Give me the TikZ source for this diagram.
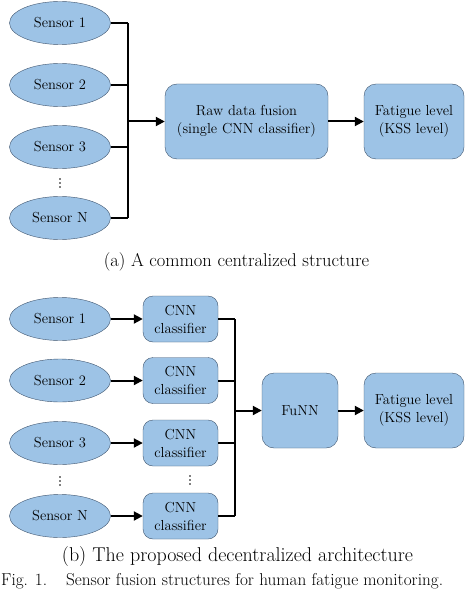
\documentclass[tikz,border=0pt]{standalone}
\usepackage{fontspec}
\usetikzlibrary{shapes.geometric,arrows.meta}

\definecolor{boxfill}{RGB}{157,195,230}
\definecolor{boxline}{RGB}{62,84,110}

\tikzset{
  txt/.style={font=\fontsize{14.5}{18}\selectfont},
  captxt/.style={font=\fontsize{#1}{21}\selectfont},
  captxt/.default=18.5,
  sensor/.style={txt, ellipse, draw=boxline, fill=boxfill, minimum width=101pt,
    minimum height=43pt, inner sep=0pt},
  block/.style={txt, rectangle, rounded corners=12pt, draw=boxline, fill=boxfill,
    inner sep=0pt, align=center},
  link/.style={line width=2pt},
  arr/.style={line width=2pt, -{Triangle[length=9pt,width=9pt]}}
}
\newcommand{\vdotsat}[1]{%
  \foreach \d in {-4,0,4} \fill (#1) ++(0,\d) circle (0.9pt);}

\begin{document}
\begin{tikzpicture}[x=1pt,y=-1pt]
  \useasboundingbox[fill=white] (0,0) rectangle (474,596);

  % (a) centralized
  \node[sensor] (a1) at (60,23) {Sensor 1};
  \node[sensor] (a2) at (60,85) {Sensor 2};
  \node[sensor] (a3) at (60,147) {Sensor 3};
  \coordinate (adots) at (60,183);
  \vdotsat{adots}
  \node[sensor] (aN) at (60,218) {Sensor N};

  \node[block, minimum width=163pt, minimum height=75pt] (raw) at (246.5,121.5)
    {Raw data fusion\\(single CNN classifier)};
  \node[block, minimum width=100pt, minimum height=75pt] (fatA) at (414,121.5)
    {Fatigue level\\(KSS level)};

  \coordinate (busA) at (128,121.5);
  \foreach \s in {a1,a2,a3,aN}
    \draw[link] (\s.east) -- (\s.east -| busA);
  \draw[link] (a1.east -| busA) -- (aN.east -| busA);
  \draw[arr] (busA) -- (raw);
  \draw[arr] (raw) -- (fatA);

  \node[captxt] (capA) at (236.5,262) {(a) A common centralized structure};

  % (b) decentralized
  \node[sensor] (b1) at (60,319) {Sensor 1};
  \node[sensor] (b2) at (60,380.5) {Sensor 2};
  \node[sensor] (b3) at (60,443) {Sensor 3};
  \coordinate (bdots) at (60,481);
  \vdotsat{bdots}
  \node[sensor] (bN) at (60,516) {Sensor N};

  \foreach \s/\y in {1/319,2/380.5,3/443,N/516}
    \node[block, rounded corners=10pt, minimum width=75pt, minimum height=46pt]
      (c\s) at (180.5,\y) {CNN\\classifier};
  \coordinate (cdots) at (190,480);
  \vdotsat{cdots}

  \node[block, minimum width=76pt, minimum height=75pt] (funn) at (300,410.5) {FuNN};
  \node[block, minimum width=100pt, minimum height=75pt] (fatB) at (414,410.5)
    {Fatigue level\\(KSS level)};

  \coordinate (busB) at (235,410.5);
  \foreach \s in {1,2,3,N} {
    \draw[arr] (b\s) -- (c\s);
    \draw[link] (c\s.east) -- (c\s.east -| busB);
  }
  \draw[link] (c1.east -| busB) -- (cN.east -| busB);
  \draw[arr] (busB) -- (funn);
  \draw[arr] (funn) -- (fatB);

  \node[captxt=20] (capB) at (237.5,557) {(b) The proposed decentralized architecture};
  \node[captxt=17.2, anchor=west, inner sep=0pt] (fig) at (1,581)
    {Fig. 1.\hspace{1.1em}Sensor fusion structures for human fatigue monitoring.};
\end{tikzpicture}
\end{document}
